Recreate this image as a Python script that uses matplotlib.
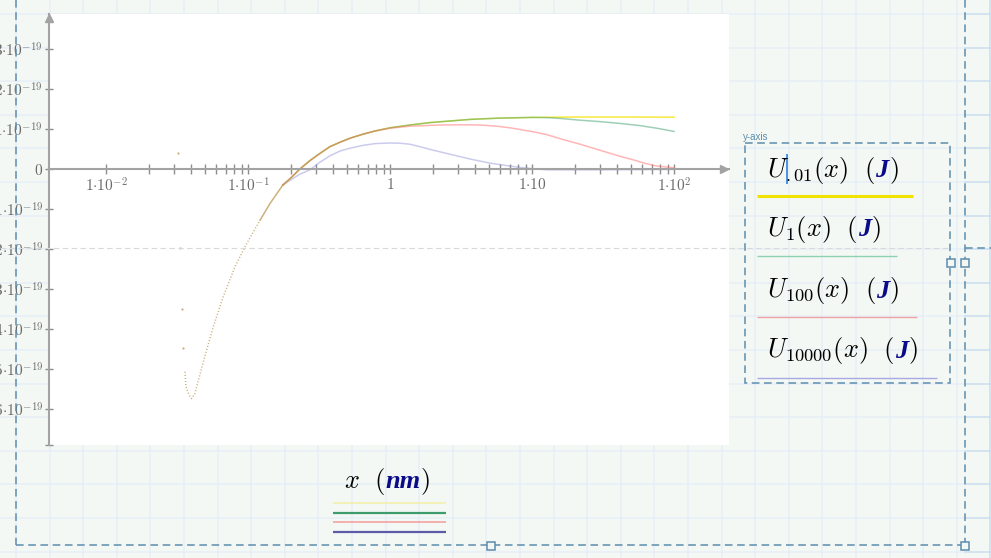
import numpy as np
import matplotlib.pyplot as plt
from matplotlib.offsetbox import TextArea, HPacker, AnnotationBbox
from matplotlib.patches import Rectangle

plt.rcParams['mathtext.fontset'] = 'cm'

W, H = 991, 558

# x in nm, U in units of 1e-19 J
# isolated sample points on the repulsive wall
x_wall = [0.0320, 0.0332, 0.0345, 0.0350]
u_wall = [0.39, -1.98, -3.50, -4.48]
# bottom of the well (same for all four curves)
x_well = [0.0360, 0.0365, 0.0383, 0.0401, 0.0423, 0.0482, 0.0570, 0.0670, 0.0810, 0.0980, 0.1216]
u_well = [-5.07, -5.43, -5.64, -5.74, -5.61, -4.85, -3.94, -3.19, -2.44, -1.86, -1.28]
# shared rising part
x_rise = [0.1216, 0.143, 0.176]
u_rise = [-1.28, -0.86, -0.40]

# each curve from x = 0.176 nm on
x_01 = [0.176, 0.198, 0.232, 0.273, 0.321, 0.378, 0.445, 0.523, 0.645, 0.784, 1.0, 1.38,
        1.91, 2.64, 3.66, 5.67, 10, 21.8, 49, 100]
u_01 = [-0.40, -0.24, 0.0, 0.21, 0.39, 0.56, 0.67, 0.77, 0.87, 0.95, 1.03, 1.10,
        1.16, 1.20, 1.24, 1.27, 1.29, 1.30, 1.30, 1.295]

x_1 = [0.176, 0.198, 0.232, 0.273, 0.321, 0.378, 0.445, 0.523, 0.645, 0.784, 1.0, 1.38,
       1.91, 2.64, 3.66, 5.67, 10, 12.7, 15.7, 21.8, 30, 41.5, 57.5, 75.5, 100]
u_1 = [-0.40, -0.24, 0.0, 0.21, 0.39, 0.56, 0.67, 0.77, 0.87, 0.95, 1.03, 1.10,
       1.16, 1.20, 1.24, 1.27, 1.29, 1.285, 1.265, 1.22, 1.185, 1.14, 1.085, 1.02, 0.94]

x_100 = [0.176, 0.198, 0.232, 0.273, 0.321, 0.378, 0.445, 0.523, 0.645, 0.784, 1.0, 1.38,
         1.63, 2.25, 3.27, 4.3, 5.67, 7.0, 8.2, 10.2, 12.7, 15.7, 21.8, 30, 41.5, 51.5,
         62.6, 75.5, 100]
u_100 = [-0.40, -0.24, 0.0, 0.21, 0.39, 0.56, 0.67, 0.77, 0.87, 0.95, 1.02, 1.07,
         1.08, 1.10, 1.105, 1.10, 1.07, 1.03, 0.99, 0.93, 0.86, 0.76, 0.62, 0.47, 0.32, 0.23,
         0.14, 0.075, 0.03]

x_10000 = [0.176, 0.198, 0.232, 0.273, 0.321, 0.378, 0.445, 0.523, 0.645, 0.784, 1.0, 1.17,
           1.38, 1.62, 1.91, 2.64, 3.66, 5.0, 6.5, 8.2, 10, 12.7, 30, 100]
u_10000 = [-0.40, -0.28, -0.13, -0.02, 0.17, 0.33, 0.45, 0.52, 0.59, 0.635, 0.65, 0.645,
           0.62, 0.56, 0.49, 0.37, 0.25, 0.15, 0.09, 0.04, 0.01, -0.02, -0.02, -0.01]

y_ticks = [3, 2, 1, 0, -1, -2, -3, -4, -5, -6]
y_tick_labels = [r'$3{\cdot}10^{-19}$', r'$2{\cdot}10^{-19}$', r'$1{\cdot}10^{-19}$', r'$0$',
                 r'$-1{\cdot}10^{-19}$', r'$-2{\cdot}10^{-19}$', r'$-3{\cdot}10^{-19}$',
                 r'$-4{\cdot}10^{-19}$', r'$-5{\cdot}10^{-19}$', r'$-6{\cdot}10^{-19}$']
x_ticks = [0.01, 0.1, 1, 10, 100]
x_tick_labels = [r'$1{\cdot}10^{-2}$', r'$1{\cdot}10^{-1}$', r'$1$', r'$1{\cdot}10$', r'$1{\cdot}10^{2}$']

legend_labels = [r'$U_{.01}(x)\ \ ($', r'$U_{1}(x)\ \ ($', r'$U_{100}(x)\ \ ($', r'$U_{10000}(x)\ \ ($']

c_yellow, c_green, c_red, c_blue = '#F2E200', '#3FA06E', '#FF6E6E', '#7E7ED2'
SC = 1e-19

fig = plt.figure(figsize=(W / 100, H / 100), dpi=100)
fig.patch.set_facecolor('#F3F8F4')

# worksheet background grid
bg = fig.add_axes([0, 0, 1, 1], zorder=0)
bg.set_xlim(0, W)
bg.set_ylim(H, 0)
bg.axis('off')
for gx in np.arange(16, W + 1, 33.6):
    bg.axvline(gx, color='#CADDF0' if gx > 966 else '#E6EFF8', lw=1.1)
for gy in np.arange(13.9, H + 1, 33.6):
    bg.axhline(gy, xmax=965 / W, color='#E6EFF8', lw=1.1)
    bg.axhline(gy, xmin=965 / W, color='#CADDF0', lw=1.1)

# plot region
ax = fig.add_axes([49 / W, 1 - 445 / H, 680 / W, 431 / H], zorder=2)
ax.set_facecolor('white')
ax.set_xscale('log')
ax.set_xlim(10 ** ((49 - 390) / 142), 10 ** ((729 - 390) / 142))
ax.set_ylim(-6.9 * SC, 3.875 * SC)

axis_col = '#A3A3A3'
for s in ['top', 'right']:
    ax.spines[s].set_visible(False)
ax.spines['bottom'].set_position(('data', 0))
for s in ['bottom', 'left']:
    ax.spines[s].set_color(axis_col)
    ax.spines[s].set_linewidth(1.5)

ax.set_xticks(x_ticks)
ax.set_xticklabels(x_tick_labels)
ax.set_xticks([k * 10.0 ** d for d in range(-2, 2) for k in range(2, 10)], minor=True)
ax.tick_params(axis='x', which='both', direction='inout', length=7, width=1,
               color='#8E8E8E', labelsize=11, labelcolor='#6A6A6A', pad=2)
ax.set_yticks([t * SC for t in y_ticks] + [-6.9 * SC])
ax.set_yticklabels(y_tick_labels + [''])
ax.tick_params(axis='y', direction='inout', length=6, width=1, color='#8E8E8E',
               labelsize=11, labelcolor='#6A6A6A', pad=1.5)

# axis arrows
ax.plot([0], [0.9896], marker='^', ms=6, color=axis_col, transform=ax.transAxes, clip_on=False)
ax.plot([0.9926], [0], marker='>', ms=6, color=axis_col, transform=ax.get_yaxis_transform(),
        clip_on=False)

# shared part of the four curves
shared = '#CBB17E'
ax.plot(x_wall, np.array(u_wall) * SC, ls='none', marker='o', ms=1.6, mew=0, color=shared)
ax.plot(x_well, np.array(u_well) * SC, ls=(0, (0.7, 1.3)), lw=1.1, color=shared)
ax.plot(x_rise, np.array(u_rise) * SC, lw=1.1, color=shared)

series = [
    (x_10000, u_10000, c_blue, 0.4),
    (x_01, u_01, c_yellow, 0.75),
    (x_1, u_1, c_green, 0.5),
    (x_100, u_100, c_red, 0.5),
]
for xs, us, col, a in series:
    ax.plot(xs, np.array(us) * SC, lw=1.1, color=col, alpha=a)

# overlay: worksheet decorations and the Mathcad-style legends
ov = fig.add_axes([0, 0, 1, 1], zorder=3)
ov.set_xlim(0, W)
ov.set_ylim(H, 0)
ov.axis('off')
ov.patch.set_alpha(0)

frame = '#5E8DAE'
dash = (0, (5, 3))
ov.plot([0, 950], [248, 248], color='#D9D9D9', lw=0.8, ls=dash)
ov.plot([965, W], [248, 248], color=frame, lw=1.1, ls=dash)
ov.plot([16, 16], [0, 545], color=frame, lw=1.1, ls=dash)
ov.plot([16, 965], [545, 545], color=frame, lw=1.1, ls=dash)
ov.plot([965, 965], [0, 545], color=frame, lw=1.1, ls=dash)
ov.add_patch(Rectangle((744.5, 143), 205, 240, fill=False, ec=frame, lw=1.1, ls=dash))
ov.text(743, 140, 'y-axis', fontsize=7, color=frame, family='Liberation Sans')
for hx, hy in [(490.5, 546), (964.5, 546), (950.5, 263), (965, 263)]:
    ov.add_patch(Rectangle((hx - 4, hy - 4), 8, 8, fc='#F3F8F4', ec=frame, lw=1.1, zorder=5))

navy = '#0B0B8A'


def mathcad_label(parts, x, y):
    boxes = []
    for txt, col, bold in parts:
        if bold:
            props = dict(color=col, size=19, family='Liberation Serif',
                         weight='bold', style='italic')
        else:
            props = dict(color=col, size=19)
        boxes.append(TextArea(txt, textprops=props))
    pack = HPacker(children=boxes, align='baseline', pad=0, sep=0)
    ov.add_artist(AnnotationBbox(pack, (x, y), xycoords='data', box_alignment=(0, 0),
                                 frameon=False, pad=0))


legend_rows = [(186, 196, c_yellow, 2.2, 913), (245, 256, '#8FD0B0', 1.0, 897),
               (306.5, 317, '#F2A2A2', 1.0, 917), (366.5, 378, '#A9A9E0', 1.0, 937)]
for lab, (yb, yl, col, lw, xe) in zip(legend_labels, legend_rows):
    mathcad_label([(lab, 'black', False), ('J', navy, True), (r'$)$', 'black', False)], 767, yb)
    ov.plot([757, xe], [yl, yl], color=col, lw=lw, solid_capstyle='butt')
ov.plot([787, 787], [155, 183], color='#4A90E2', lw=1.4)

mathcad_label([(r'$x\ \ ($', 'black', False), ('nm', navy, True), (r'$)$', 'black', False)], 344, 497)
for yl, col, lw in [(503.3, '#F4EFA6', 1.1), (512.7, '#3D9B6C', 1.6),
                    (522.3, '#F59A9A', 1.1), (531.7, '#5B5BA8', 1.6)]:
    ov.plot([332.7, 445.7], [yl, yl], color=col, lw=lw, solid_capstyle='butt')

fig.savefig('out.png', dpi=100, facecolor=fig.get_facecolor())
